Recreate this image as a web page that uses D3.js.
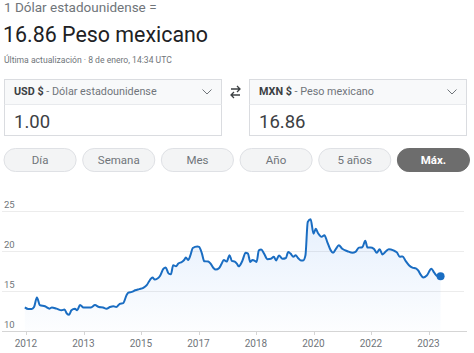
<!DOCTYPE html>
<html><head><meta charset="utf-8">
<script src="https://cdn.jsdelivr.net/npm/d3@7"></script>
<style>
html,body{margin:0;padding:0;background:#fff;}
svg{display:block;font-family:Roboto,"Noto Sans",Arial,sans-serif;}
</style></head>
<body>
<script>
// ---- data ----
const tickLabels = ["2012","2013","2015","2017","2018","2020","2022","2023"];
const yTicks = [10, 15, 20, 25];
// positions along the x axis in tick units (0 = first label, 7 = last label)
const positions = [-0.02,0.04,0.10,0.14,0.19,0.24,0.33,0.41,0.45,0.53,0.62,0.67,0.71,0.75,0.79,0.85,0.89,0.94,1.00,1.07,1.13,1.20,1.27,1.34,1.40,1.46,1.52,1.57,1.63,1.69,1.75,1.78,1.84,1.90,1.97,2.04,2.10,2.16,2.20,2.24,2.28,2.33,2.39,2.43,2.48,2.52,2.56,2.61,2.65,2.71,2.75,2.78,2.82,2.86,2.90,2.98,3.01,3.06,3.10,3.17,3.21,3.26,3.30,3.36,3.40,3.44,3.49,3.54,3.58,3.63,3.67,3.70,3.76,3.82,3.86,3.90,3.94,3.98,4.01,4.05,4.09,4.14,4.20,4.26,4.31,4.35,4.40,4.46,4.52,4.56,4.60,4.65,4.69,4.73,4.78,4.82,4.86,4.90,4.95,5.00,5.04,5.08,5.14,5.19,5.24,5.30,5.34,5.39,5.44,5.50,5.59,5.68,5.73,5.79,5.85,5.90,5.94,5.99,6.05,6.10,6.15,6.20,6.26,6.31,6.39,6.45,6.50,6.55,6.60,6.66,6.72,6.78,6.82,6.86,6.91,6.97,7.05,7.10,7.15,7.21];
const rates = [12.96,12.75,12.75,13.0,14.2,13.25,13.1,12.8,12.95,12.8,12.6,12.7,12.2,12.05,12.6,12.8,12.6,13.25,12.95,12.95,12.95,13.25,13.0,12.95,12.8,13.0,13.1,13.0,13.4,13.5,14.5,14.8,14.9,15.1,15.25,15.4,15.75,16.45,16.7,16.45,16.55,16.9,17.8,17.95,17.2,17.1,18.25,18.1,18.45,18.65,18.9,19.2,18.9,19.5,20.4,20.6,20.55,19.7,18.75,18.7,18.45,17.9,17.7,17.9,18.4,18.9,18.7,19.5,18.8,18.7,18.4,18.1,18.75,19.8,19.7,18.65,18.9,18.8,18.65,20.1,20.2,19.7,19.0,19.05,19.3,18.85,19.45,19.05,19.15,19.9,19.7,19.3,19.5,19.15,18.85,18.85,19.5,23.65,24.0,22.2,22.8,22.25,21.8,22.0,21.15,20.1,19.8,20.3,20.75,20.3,20.0,19.8,19.9,20.45,20.5,21.3,20.45,20.45,20.3,19.8,20.25,19.6,20.0,20.25,20.1,19.85,19.3,19.35,18.8,18.25,17.95,17.85,17.6,17.1,16.7,16.95,17.8,17.3,16.9,16.86];
const ranges = ["Día","Semana","Mes","Año","5 años","Máx."];
const selectedRange = "Máx.";
const currencies = [
  {code:"USD $", name:" - Dólar estadounidense", amount:"1.00"},
  {code:"MXN $", name:" - Peso mexicano", amount:"16.86"}
];

// ---- layout ----
const W = 474, H = 353;
const svg = d3.select("body").append("svg").attr("width", W).attr("height", H);
const gray = "#70757a", dark = "#202124", lineColor = "#1a6dc2";

svg.append("text").attr("x",4).attr("y",12).attr("font-size",13.5).attr("fill",gray)
  .text("1 Dólar estadounidense =");
svg.append("text").attr("x",3).attr("y",41.5).attr("font-size",21.4).attr("fill",dark)
  .text("16.86 Peso mexicano");
svg.append("text").attr("x",4).attr("y",63).attr("font-size",8.6).attr("fill",gray)
  .text("Última actualización · 8 de enero, 14:34 UTC");

// converter boxes
const boxX = d3.scaleOrdinal().domain([0,1]).range([4.5, 249.5]);
currencies.forEach((c,i)=>{
  const g = svg.append("g").attr("transform",`translate(${boxX(i)},79.5)`);
  g.append("rect").attr("width",217).attr("height",56).attr("fill","#fff").attr("stroke","#dadce0");
  g.append("rect").attr("x",0.5).attr("y",0.5).attr("width",216).attr("height",24.5).attr("fill","#f8f9fa");
  g.append("line").attr("x1",0).attr("x2",217).attr("y1",25).attr("y2",25).attr("stroke","#e8eaed");
  const t = g.append("text").attr("x",9.5).attr("y",15.5).attr("font-size",10.8).attr("fill","#3c4043");
  t.append("tspan").attr("font-weight","bold").text(c.code);
  t.append("tspan").attr("fill",gray).text(c.name);
  g.append("path").attr("d","M198,10 L202.5,14.5 L207,10").attr("fill","none").attr("stroke",gray).attr("stroke-width",1);
  g.append("text").attr("x",9.5).attr("y",48).attr("font-size",18.5).attr("fill","#3c4043").text(c.amount);
});
// swap icon
svg.append("path").attr("d","M231,89 H240 M237,86 L240,89 L237,92 M240,95 H231 M234,92 L231,95 L234,98")
  .attr("fill","none").attr("stroke","#3c4043").attr("stroke-width",1.3);

// range buttons
const bx = d3.scaleBand().domain(ranges).range([4, 469.5]).paddingInner(0.083).paddingOuter(0);
ranges.forEach(r=>{
  const sel = r===selectedRange;
  svg.append("rect").attr("x",bx(r)).attr("y",148.5).attr("width",bx.bandwidth()).attr("height",23)
    .attr("rx",11.5).attr("fill",sel?"#6d6d6d":"#f3f4f5").attr("stroke",sel?"#6d6d6d":"#dfe1e5");
  svg.append("text").attr("x",bx(r)+bx.bandwidth()/2).attr("y",164).attr("text-anchor","middle")
    .attr("font-size",11.5).attr("font-weight",sel?"bold":"normal").attr("fill",sel?"#fff":gray).text(r);
});

// chart
const x = d3.scaleLinear().domain([0, tickLabels.length-1]).range([26, 428.5]);
const y = d3.scaleLinear().domain([10, 25]).range([331, 211.3]);
const data = positions.map((p,i)=>({p, v:rates[i]}));

const defs = svg.append("defs");
const grad = defs.append("linearGradient").attr("id","fillGrad").attr("x1",0).attr("y1",0).attr("x2",0).attr("y2",1);
grad.append("stop").attr("offset","0%").attr("stop-color","#1a73e8").attr("stop-opacity",0.11);
grad.append("stop").attr("offset","100%").attr("stop-color","#1a73e8").attr("stop-opacity",0.01);

// grid
yTicks.forEach(t=>{
  svg.append("line").attr("x1",2).attr("x2",t===10?467:464).attr("y1",Math.round(y(t))+0.5).attr("y2",Math.round(y(t))+0.5)
    .attr("stroke",t===10?"#d5d5d5":"#ececec").attr("stroke-width",1);
  svg.append("text").attr("x",4).attr("y",y(t)-3.5).attr("font-size",9.5).attr("fill",gray).text(t);
});

const area = d3.area().x(d=>x(d.p)).y0(y(10)).y1(d=>y(d.v)).curve(d3.curveMonotoneX);
svg.append("path").datum(data).attr("d",area).attr("fill","url(#fillGrad)");
const line = d3.line().x(d=>x(d.p)).y(d=>y(d.v)).curve(d3.curveMonotoneX);
svg.append("path").datum(data).attr("d",line).attr("fill","none").attr("stroke",lineColor)
  .attr("stroke-width",2).attr("stroke-linejoin","round");
const last = data[data.length-1];
svg.append("circle").attr("cx",x(last.p)).attr("cy",y(last.v)).attr("r",4).attr("fill",lineColor);

// x axis ticks and labels
tickLabels.forEach((l,i)=>{
  svg.append("line").attr("x1",Math.round(x(i))+0.5).attr("x2",Math.round(x(i))+0.5).attr("y1",331).attr("y2",335)
    .attr("stroke","#d5d5d5");
  svg.append("text").attr("x",x(i)).attr("y",346.5).attr("text-anchor","middle").attr("font-size",10)
    .attr("fill",gray).text(l);
});
</script>
</body></html>
